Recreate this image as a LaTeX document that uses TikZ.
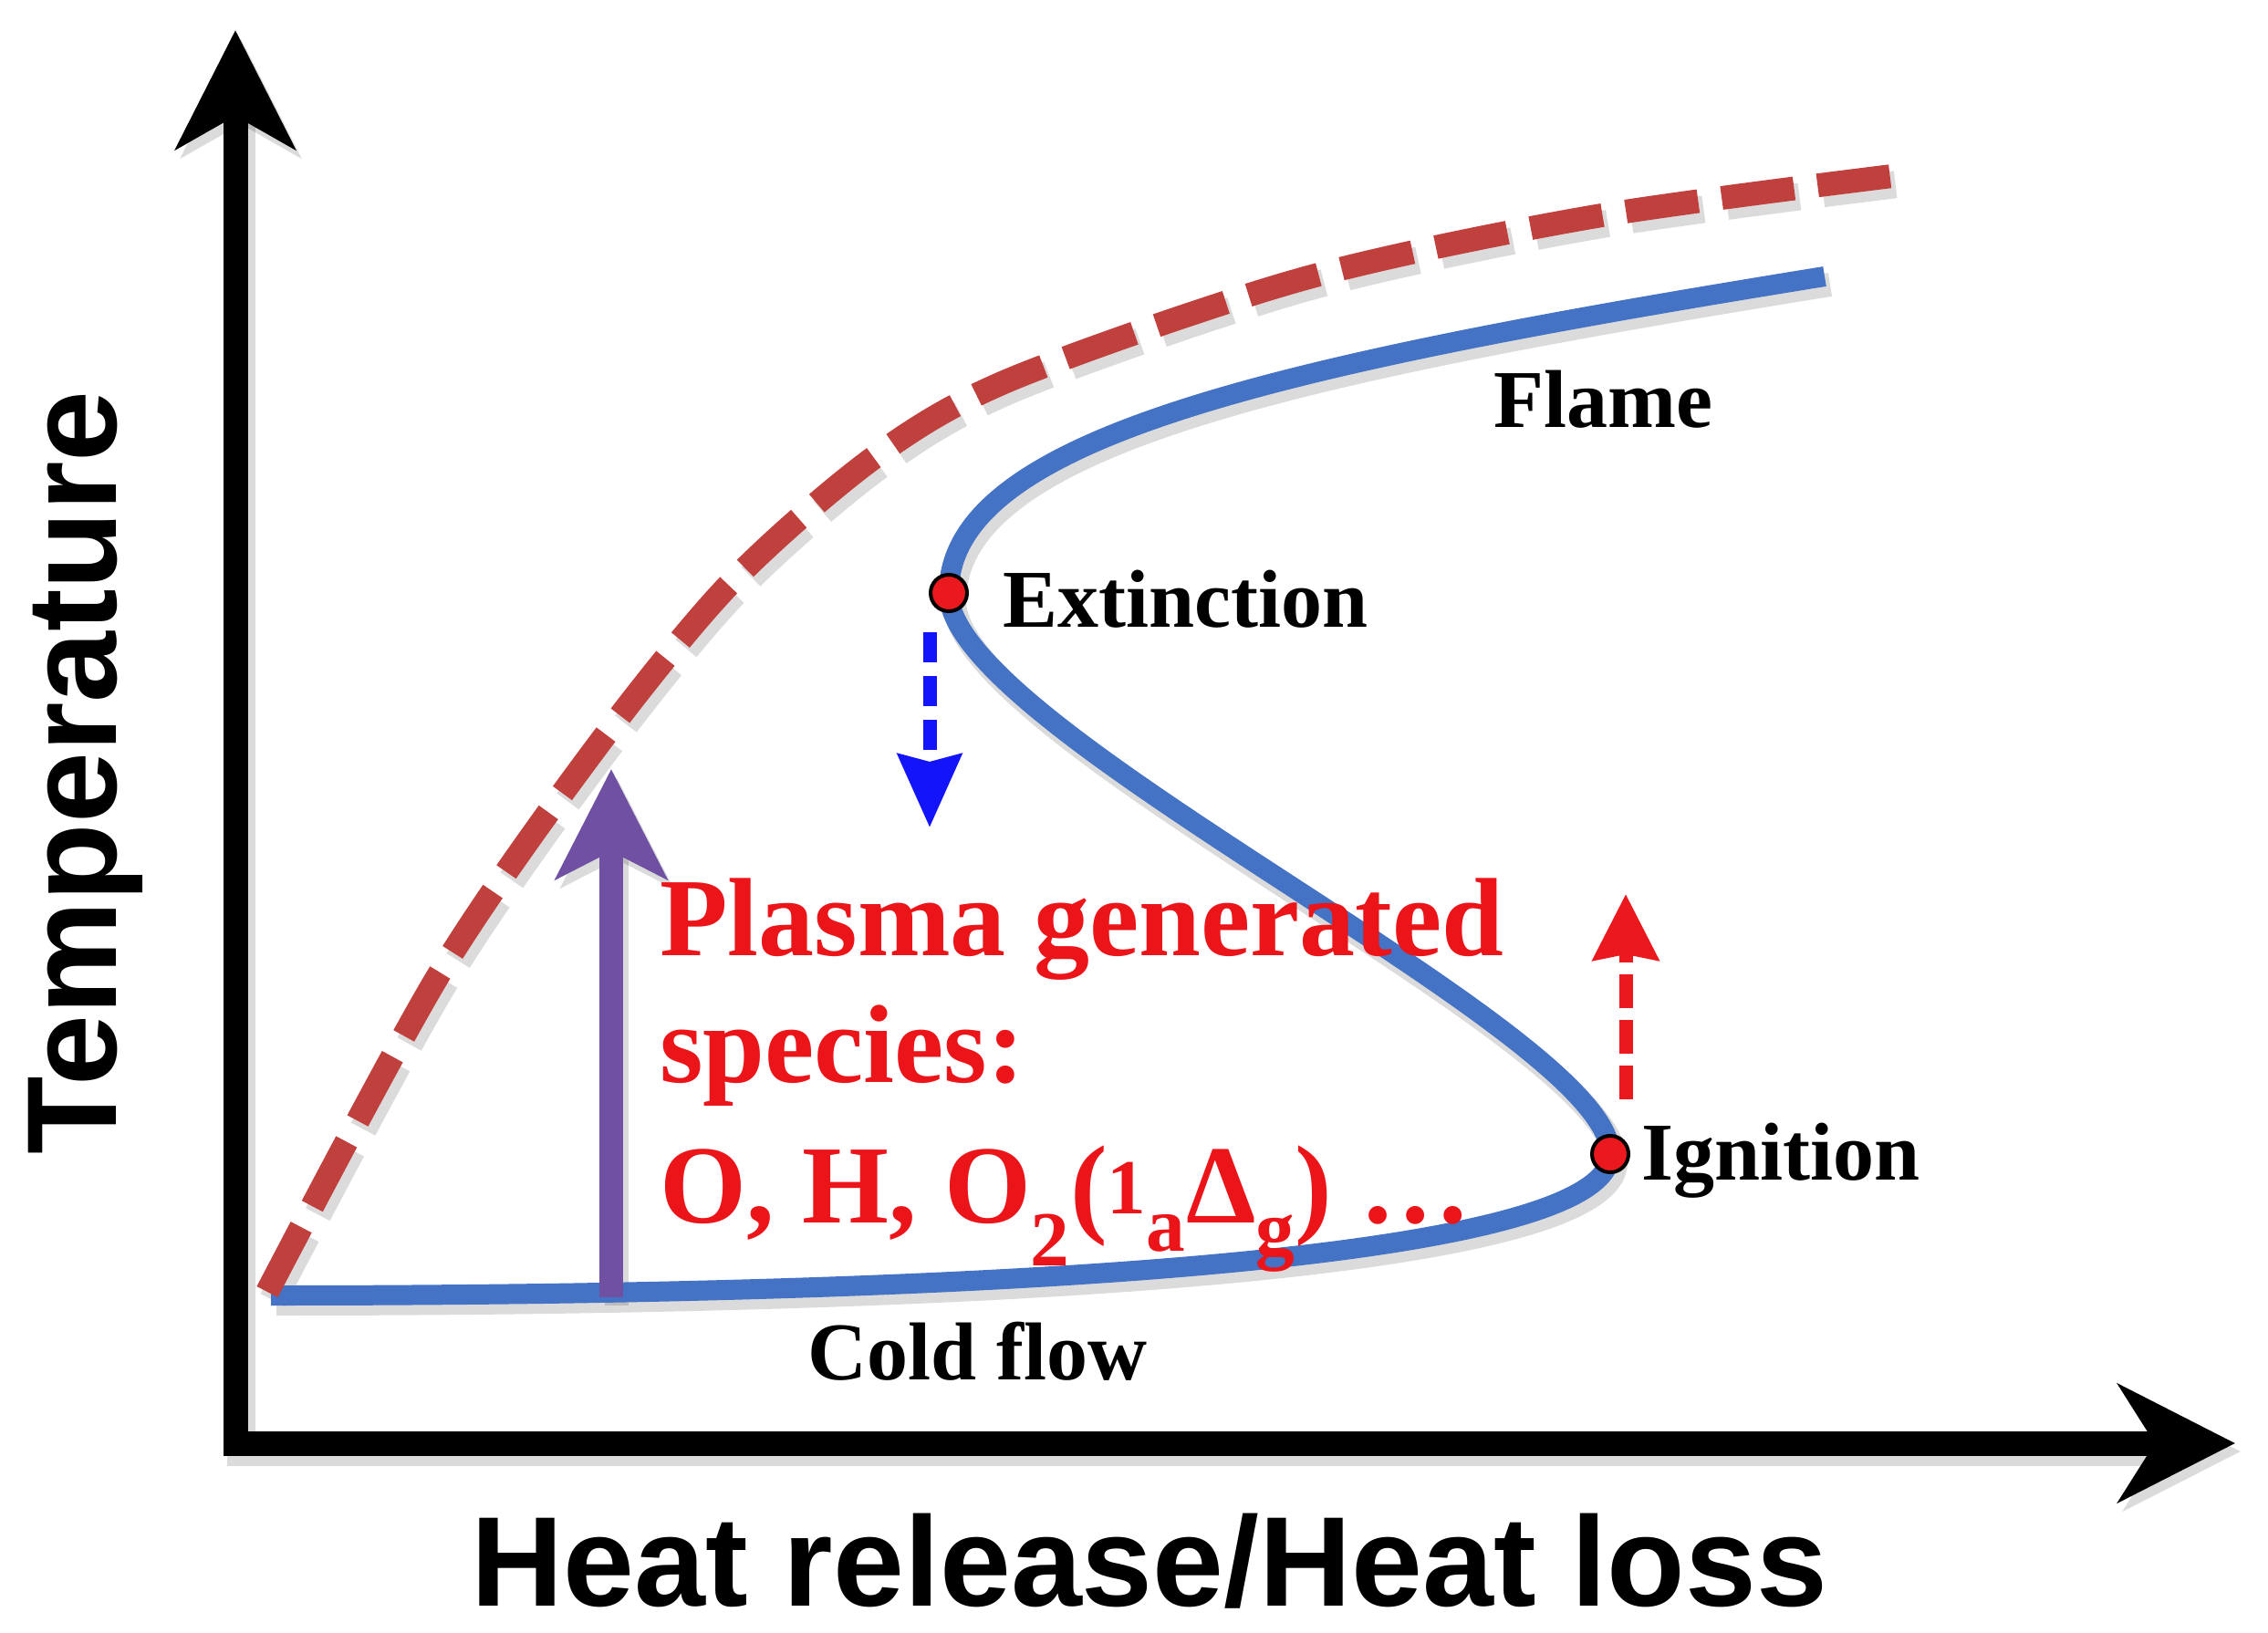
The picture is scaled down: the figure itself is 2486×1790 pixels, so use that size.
\documentclass[tikz,border=0pt]{standalone}
\usepackage{fontspec}
\setmainfont{Liberation Serif}
\newfontfamily\axisfont{Liberation Sans}
\usetikzlibrary{arrows.meta}
\definecolor{curveblue}{RGB}{68,114,196}
\definecolor{dashbrown}{RGB}{192,64,62}
\definecolor{plasmapurple}{RGB}{112,80,162}
\definecolor{textred}{RGB}{235,20,25}
\definecolor{arrowblue}{RGB}{20,20,250}
\definecolor{arrowred}{RGB}{235,25,30}
\begin{document}
\begin{tikzpicture}[x=1pt,y=-1pt,
  axisline/.style={line width=27pt, line join=miter,
    arrows={Stealth[length=130pt,width=130pt,inset=36pt]-Stealth[length=128pt,width=129pt,inset=40pt]}},
  bluecurve/.style={line width=22pt, draw=curveblue},
  browndash/.style={line width=26pt, draw=dashbrown, dash pattern=on 80pt off 26pt},
  purplearrow/.style={line width=26pt, draw=plasmapurple,
    arrows={-Stealth[length=120pt,width=121pt,inset=30pt]}},
  bluedash/.style={line width=15pt, draw=arrowblue, dash pattern=on 33pt off 15pt,
    arrows={-Stealth[length=80pt,width=69pt,inset=8pt]}},
  reddash/.style={line width=15pt, draw=arrowred, dash pattern=on 37pt off 13pt,
    arrows={-Stealth[length=72pt,width=71pt,inset=6pt]}},
  dotmark/.style={circle, fill=arrowred, draw=black, line width=4pt, minimum size=40pt, inner sep=0pt},
  lbl/.style={font=\fontsize{90}{100}\selectfont\bfseries, inner sep=0pt, anchor=base west, text=black},
  redlbl/.style={font=\fontsize{122}{140}\selectfont\bfseries, inner sep=0pt, anchor=base west, text=textred},
  axislbl/.style={font=\axisfont\fontsize{140}{160}\selectfont\bfseries, inner sep=0pt, anchor=base, text=black},
  shadowlayer/.style={transform canvas={shift={(6,9)}}, opacity=0.14}
]
\useasboundingbox (0,0) rectangle (2486,1790);
\fill[white] (0,0) rectangle (2486,1790);

% key points
\coordinate (ytip) at (258,33);
\coordinate (origin) at (258,1582);
\coordinate (xtip) at (2450,1582);
\coordinate (coldstart) at (297,1420);
\coordinate (ign) at (1765,1265);
\coordinate (ext) at (1040,650);
\coordinate (flameend) at (2000,303);
\coordinate (plasmabase) at (670,1422);
\coordinate (plasmatip) at (670,843);
\coordinate (extarrA) at (1019,693);
\coordinate (extarrB) at (1019,907);
\coordinate (ignarrA) at (1782,1205);
\coordinate (ignarrB) at (1782,980);

% soft shadows
\begin{scope}[shadowlayer]
  \draw[axisline, draw=black, line width=31pt] (ytip) -- (origin) -- (xtip);
  \draw[bluecurve, draw=black, line width=26pt] (coldstart) .. controls (1100,1420) and (1765,1380) .. (ign)
     .. controls (1765,1130) and (1040,800) .. (ext)
     .. controls (1040,480) and (1400,400) .. (flameend);
  \draw[browndash, draw=black, line width=30pt] plot[smooth] coordinates {(293,1416) (480,1070) (650,824) (800,640) (960,500) (1110,415) (1427,306) (1744,238) (2082,192)};
  \draw[purplearrow, draw=black] (plasmabase) -- (plasmatip);
\end{scope}

% axes
\draw[axisline] (ytip) -- (origin) -- (xtip);

% S-curve
\draw[bluecurve] (coldstart) .. controls (1100,1420) and (1765,1380) .. (ign)
   .. controls (1765,1130) and (1040,800) .. (ext)
   .. controls (1040,480) and (1400,400) .. (flameend);

% adiabatic dashed curve
\draw[browndash] plot[smooth] coordinates {(293,1416) (480,1070) (650,824) (800,640) (960,500) (1110,415) (1427,306) (1744,238) (2082,192)};

% arrows
\draw[purplearrow] (plasmabase) -- (plasmatip);
\draw[bluedash] (extarrA) -- (extarrB);
\draw[reddash] (ignarrA) -- (ignarrB);

% turning points
\node[dotmark] (extdot) at (ext) {};
\node[dotmark] (igndot) at (ign) {};

% labels
\node[lbl] (extlbl) at (1099,687) {Extinction};
\node[lbl] (ignlbl) at (1799,1293) {Ignition};
\node[lbl] (flamelbl) at (1637,468) {Flame};
\node[lbl] (coldlbl) at (885,1512) {Cold flow};
\node[redlbl] (pl1) at (723,1047) {Plasma generated};
\node[redlbl] (pl2) at (723,1186) {species:};
\node[redlbl] (pl3) at (723,1340) {O, H, O\textsubscript{2}(\textsuperscript{1}\textsubscript{a}Δ\textsubscript{g}) …};
\node[axislbl, rotate=90] (ylbl) at (127,847) {Temperature};
\node[axislbl] (xlbl) at (1260,1760) {Heat release/Heat loss};
\end{tikzpicture}
\end{document}
